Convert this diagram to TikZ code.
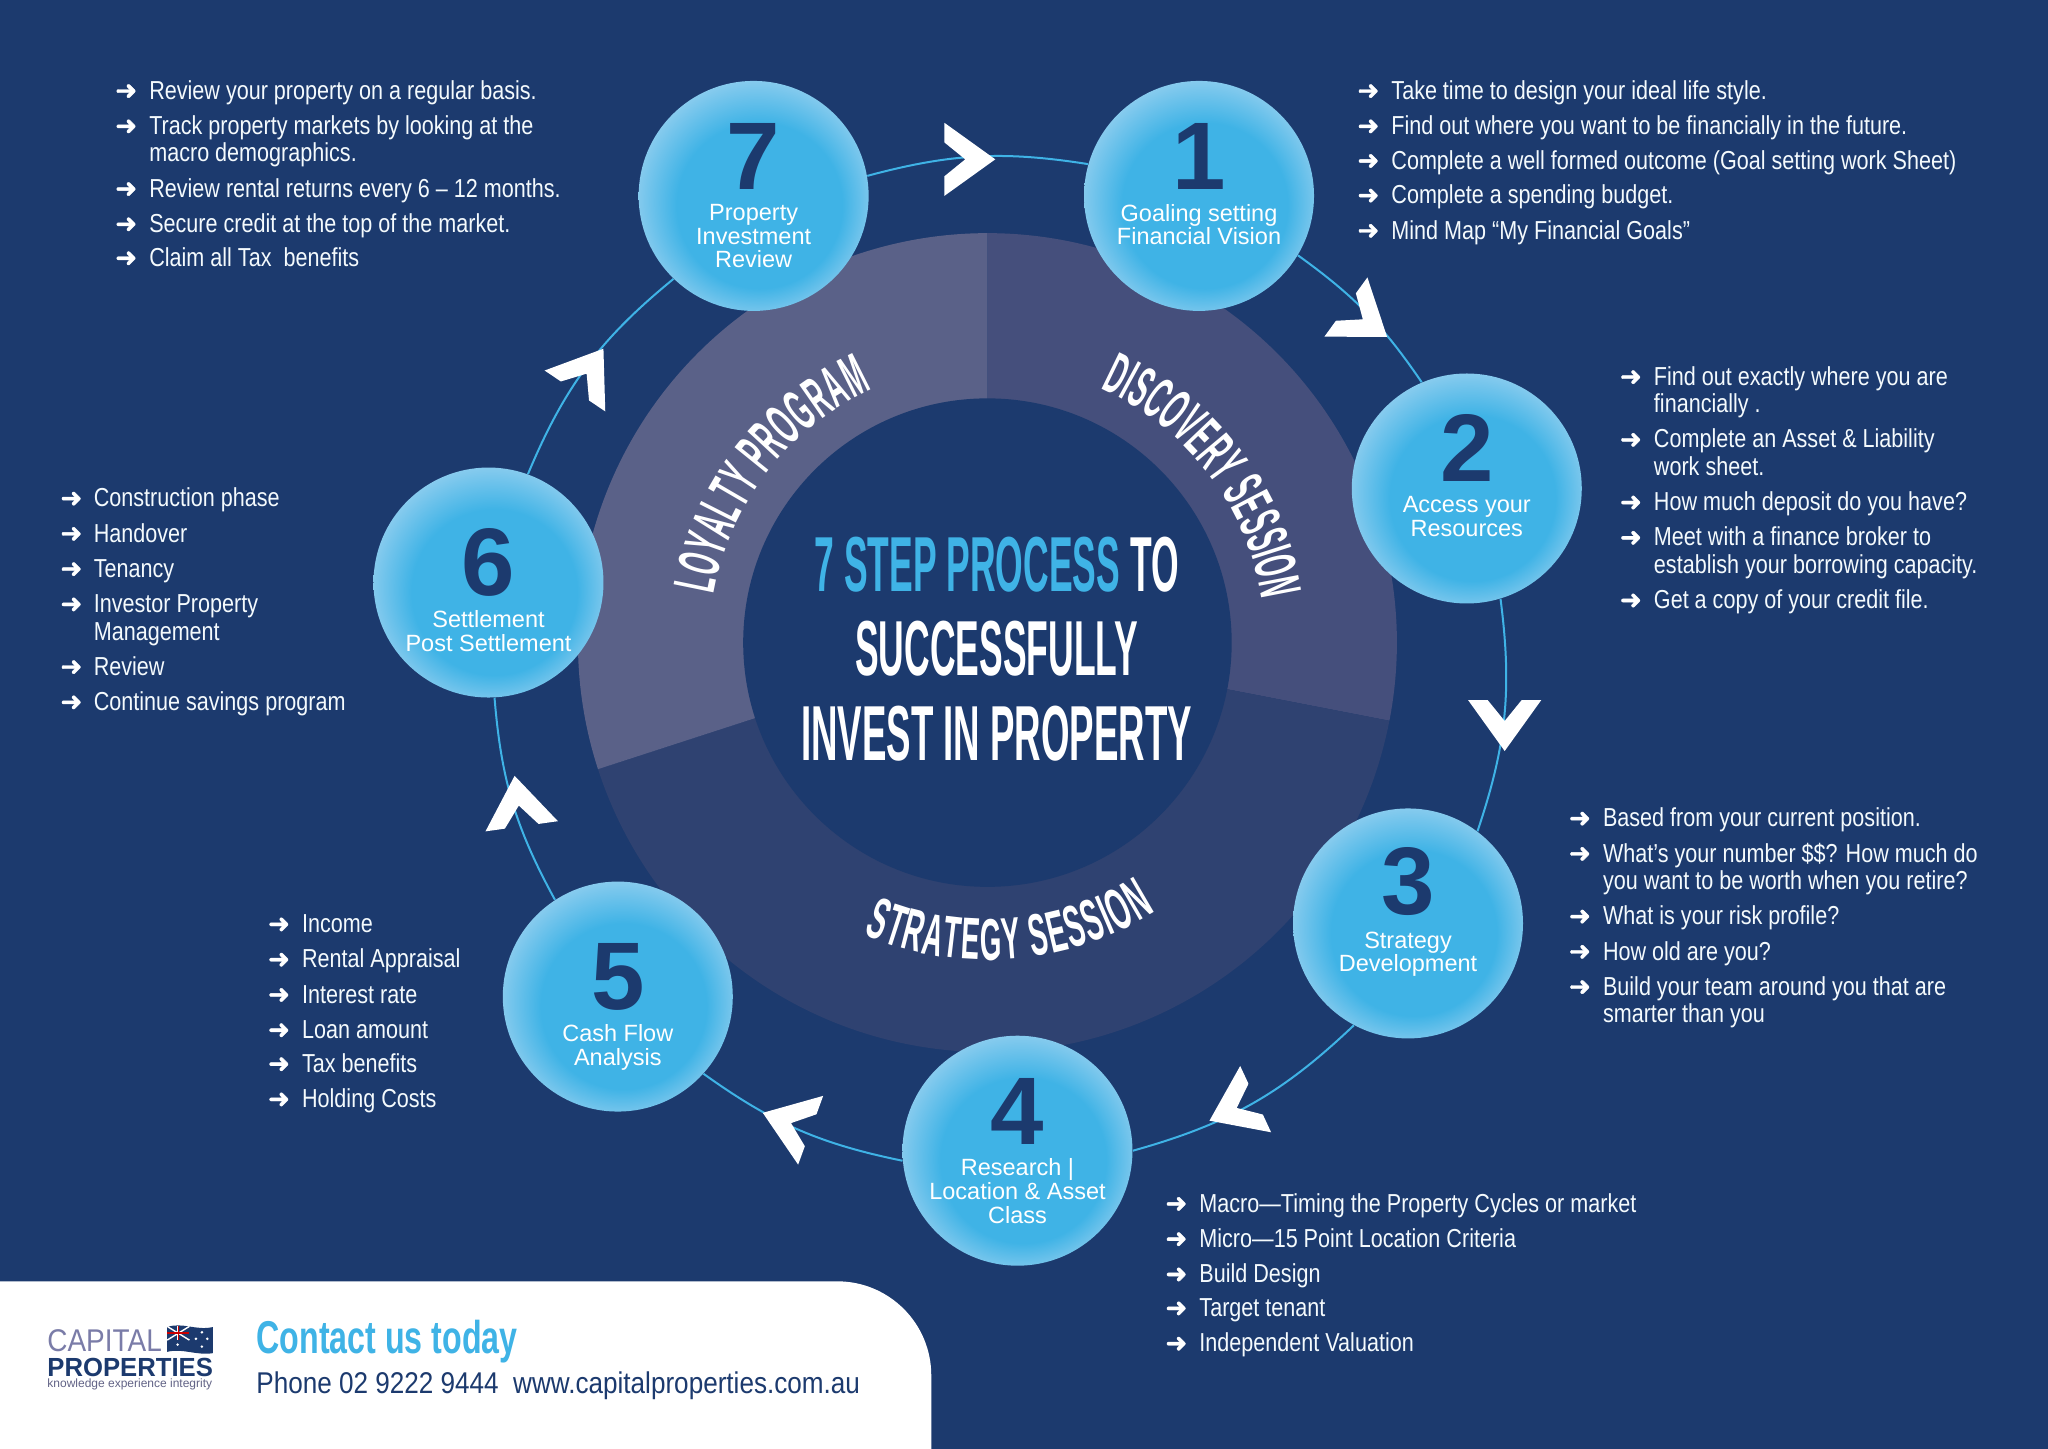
\documentclass[tikz,border=0pt]{standalone}
\usepackage{fontspec}
\usetikzlibrary{calc}
\usetikzlibrary{decorations.text}
\setmainfont{Liberation Sans}
\newfontfamily\itemfont[FakeStretch=0.83]{Liberation Sans}
\newfontfamily\titlefont[FakeStretch=0.455]{Liberation Sans Bold}
\newfontfamily\titlewidefont[FakeStretch=0.47]{Liberation Sans Bold}
\newfontfamily\curvefont[FakeStretch=0.43]{Liberation Sans Bold}
\newfontfamily\contactfont[FakeStretch=0.7]{Liberation Sans Bold}
\newfontfamily\phonefont[FakeStretch=0.87]{Liberation Sans}
\newfontfamily\capitalfont[FakeStretch=0.89]{Liberation Sans}
\newfontfamily\propertiesfont[FakeStretch=0.98]{Liberation Sans Bold}
\newfontfamily\arrowfont[FakeBold=1.5]{DejaVu Sans}
\definecolor{bgblue}{HTML}{1C3A6E}
\definecolor{skyblue}{HTML}{3FB3E6}
\definecolor{balledge}{HTML}{B4DAF3}
\definecolor{loyaltycol}{HTML}{5A6188}
\definecolor{discoverycol}{HTML}{454F7C}
\definecolor{strategycol}{HTML}{2F4271}
\definecolor{logogrey}{HTML}{7A7CA8}
\pgfdeclareradialshading{ballshade}{\pgfpoint{3bp}{-5bp}}{color(0bp)=(skyblue); color(18bp)=(skyblue); color(31bp)=(balledge)}
\tikzset{
  ball/.style={circle, shading=ballshade, minimum size=115pt, inner sep=0pt},
  ballnum/.style={text=bgblue, font=\fontsize{48}{48}\selectfont\bfseries, inner sep=0pt, anchor=base},
  balltxt/.style={text=white, font=\fontsize{11.75}{11.9}\selectfont, align=center, inner sep=0pt},
  ringline/.style={skyblue, line width=1pt},
  itemtext/.style={text=white!94!skyblue, font=\itemfont\fontsize{13}{13}\selectfont, inner sep=0pt, anchor=base west},
  itemarrow/.style={text=white, font=\arrowfont\fontsize{13}{13}\selectfont, inner sep=0pt, anchor=base west},
  titletxt/.style={text=white, font=\titlefont\fontsize{39}{39}\selectfont, inner sep=0pt, anchor=base}
}
% one block of list lines: name, arrow x, text x, then y/arrow flag/text
\newcommand{\stepblock}[4]{%
  \foreach \y/\f/\txt [count=\k] in {#4}
  {
    \node[itemtext] (#1t\k) at (#3,\y+7) {\txt};
    \ifnum\f=1 \node[itemarrow] (#1a\k) at (#2,\y+7) {➜};\fi
  }
}
\begin{document}
\begin{tikzpicture}[x=0.65306pt, y=-0.65306pt]
        % Bounding box and background
        \useasboundingbox (0,0) rectangle (1568,1108.7);
        \fill[bgblue] (-2,-2) rectangle (1572,1113);

        % Define the radii of the session ring
        \def\outer{313.5}
        \def\inner{187}
        \coordinate (hub) at (756,492);

        % Draw the three session sectors
        \fill[discoverycol] (hub) -- ++(-90:\outer) arc[start angle=-90, end angle=11, radius=\outer] -- cycle;
        \fill[strategycol] (hub) -- ++(11:\outer) arc[start angle=11, end angle=162, radius=\outer] -- cycle;
        \fill[loyaltycol] (hub) -- ++(162:\outer) arc[start angle=162, end angle=270, radius=\outer] -- cycle;
        \node[circle, fill=bgblue, minimum size=2*\inner*0.65306pt, inner sep=0pt] (core) at (hub) {};

        % Curved session names
        \path[decorate, decoration={text along path, text align=fit to path, text={|\curvefont\fontsize{29.5}{30}\selectfont\color{white}|LOYALTY PROGRAM}}]
          (hub) ++(-170:213) arc[start angle=-170, end angle=-114.5, radius=213];
        \path[decorate, decoration={text along path, text align=fit to path, text={|\curvefont\fontsize{29.5}{30}\selectfont\color{white}|DISCOVERY SESSION}}]
          (hub) ++(-66:213) arc[start angle=-66, end angle=-9, radius=213];
        \path[decorate, decoration={text along path, text align=fit to path, text={|\titlewidefont\fontsize{29.5}{30}\selectfont\color{white}|STRATEGY SESSION}}]
          (hub) ++(113:243) arc[start angle=113, end angle=58, radius=243];

        % Centre title
        \node[titletxt] (title1) at (763,453) {\textcolor{skyblue}{7 STEP PROCESS} TO};
        \node[titletxt] (title2) at (763,517) {SUCCESSFULLY};
        \node[titletxt, font=\titlewidefont\fontsize{39}{39}\selectfont] (title3) at (763,582) {INVEST IN PROPERTY};

        % Draw the seven step balls
        \foreach \i/\x/\y/\o/\p/\txt in {
          1/918/150/0/0/{Goaling setting\\Financial Vision},
          2/1123/374/0/0/{Access your\\Resources},
          3/1078/707/-2/0/{Strategy\\Development},
          4/779/881/0/0/{Research |\\Location \& Asset\\Class},
          5/473/763/15/15/{Cash Flow\\Analysis},
          6/374/446/15/15/{Settlement\\Post Settlement},
          7/577/150/0/0/{Property\\Investment\\Review}}
        {
          \node[ball] (n\i) at (\x,\y) {};
          \node[ballnum] (num\i) at (\x,\y-5+\o) {\i};
          \node[balltxt, anchor=north] (txt\i) at (\x,\y+6+\p) {\txt};
        }

        % Connect the balls
        \draw[ringline] (n1.-31) to[bend left=10] (n2.113);
        \draw[ringline] (n2.-73) to[bend left=13] (n3.53);
        \draw[ringline] (n3.242) to[bend left=14] (n4.0);
        \draw[ringline] (n4.185) to[bend left=12] (n5.-42);
        \draw[ringline] (n5.123) to[bend left=12] (n6.-87);
        \draw[ringline] (n6.70) to[bend left=14] (n7.226);
        \draw[ringline] (n7.10) to[bend left=12] (n1.164);

        % White chevrons on the ring
        \foreach \x/\y/\a in {762/122/0, 1062/258/-36, 1152/575/-90, 926/858/-155, 584/852/-200, 394/594/-262, 462/267/56}
        {
          \fill[white, shift={(\x,\y)}, rotate=\a] (0,0) -- (-39,-28) -- (-39,-13) -- (-23,0) -- (-39,13) -- (-39,28) -- cycle;
        }

        % List texts
        \stepblock{a}{1039}{1065}{69/1/Take time to design your ideal life style., 96/1/Find out where you want to be financially in the future., 122.5/1/Complete a well formed outcome (Goal setting work Sheet), 149/1/Complete a spending budget., 176/1/Mind Map “My Financial Goals”}
        \stepblock{b}{1240}{1266}{288/1/Find out exactly where you are, 309/0/financially ., 336/1/Complete an Asset \& Liability, 357/0/work sheet., 384/1/How much deposit do you have?, 411/1/Meet with a finance broker to, 432/0/establish your borrowing capacity., 459/1/Get a copy of your credit file.}
        \stepblock{c}{1201}{1227}{626/1/Based from your current position., 653/1/What’s your number \$\$? How much do, 674/0/you want to be worth when you retire?, 701/1/What is your risk profile?, 728/1/How old are you?, 755/1/Build your team around you that are, 776/0/smarter than you}
        \stepblock{d}{892}{918}{921/1/Macro—Timing the Property Cycles or market, 948/1/Micro—15 Point Location Criteria, 975/1/Build Design, 1001/1/Target tenant, 1028/1/Independent Valuation}
        \stepblock{e}{205}{231}{707/1/Income, 734/1/Rental Appraisal, 761/1/Interest rate, 788/1/Loan amount, 814/1/Tax benefits, 841/1/Holding Costs}
        \stepblock{f}{46}{71.5}{381/1/Construction phase, 408/1/Handover, 435/1/Tenancy, 462/1/Investor Property, 483/0/Management, 510/1/Review, 537/1/Continue savings program}
        \stepblock{g}{88}{114}{69/1/Review your property on a regular basis., 96/1/Track property markets by looking at the, 117/0/macro demographics., 144/1/Review rental returns every 6 – 12 months., 171/1/Secure credit at the top of the market., 197/1/Claim all Tax\ \ benefits}

        % Footer panel
        \fill[white] (-2,981) -- (641,981) arc[start angle=-90, end angle=0, radius=72] -- (713,1113) -- (-2,1113) -- cycle;
        \node[inner sep=0pt, anchor=base west, text=skyblue, font=\contactfont\fontsize{23}{23}\selectfont] (contact) at (196,1036) {Contact us today};
        \node[inner sep=0pt, anchor=base west, text=bgblue, font=\phonefont\fontsize{15}{15}\selectfont] (phone) at (196,1067) {Phone 02 9222 9444\ \ www.capitalproperties.com.au};

        % Logo
        \node[inner sep=0pt, anchor=base west, text=logogrey, font=\capitalfont\fontsize{15.7}{16}\selectfont] (capital) at (36,1035) {CAPITAL};
        \node[inner sep=0pt, anchor=base west, text=bgblue, font=\propertiesfont\fontsize{13.1}{13}\selectfont] (properties) at (36,1054) {PROPERTIES};
        \node[inner sep=0pt, anchor=base west, text=logogrey!80!black, font=\fontsize{6}{6}\selectfont] (tagline) at (36,1062) {knowledge experience integrity};
        % Flag
        \fill[bgblue] (128,1016) .. controls (140,1012) and (150,1019) .. (163,1016) -- (163,1036) .. controls (150,1038) and (140,1032) .. (128,1035) -- cycle;
        \draw[white, line width=0.7pt] (128,1015.5) -- (145,1026) (145,1015.5) -- (128,1026);
        \draw[white, line width=1.2pt] (136.5,1015) -- (136.5,1026) (128,1020.5) -- (145,1020.5);
        \draw[red!80!black, line width=0.6pt] (136.5,1015) -- (136.5,1026) (128,1020.5) -- (145,1020.5);
        \foreach \x/\y in {136/1029.5, 154.6/1020, 158.7/1025, 150/1025, 154.6/1031}
        {
          \fill[white] (\x,\y) circle (1.1);
        }
      \end{tikzpicture}
\end{document}
